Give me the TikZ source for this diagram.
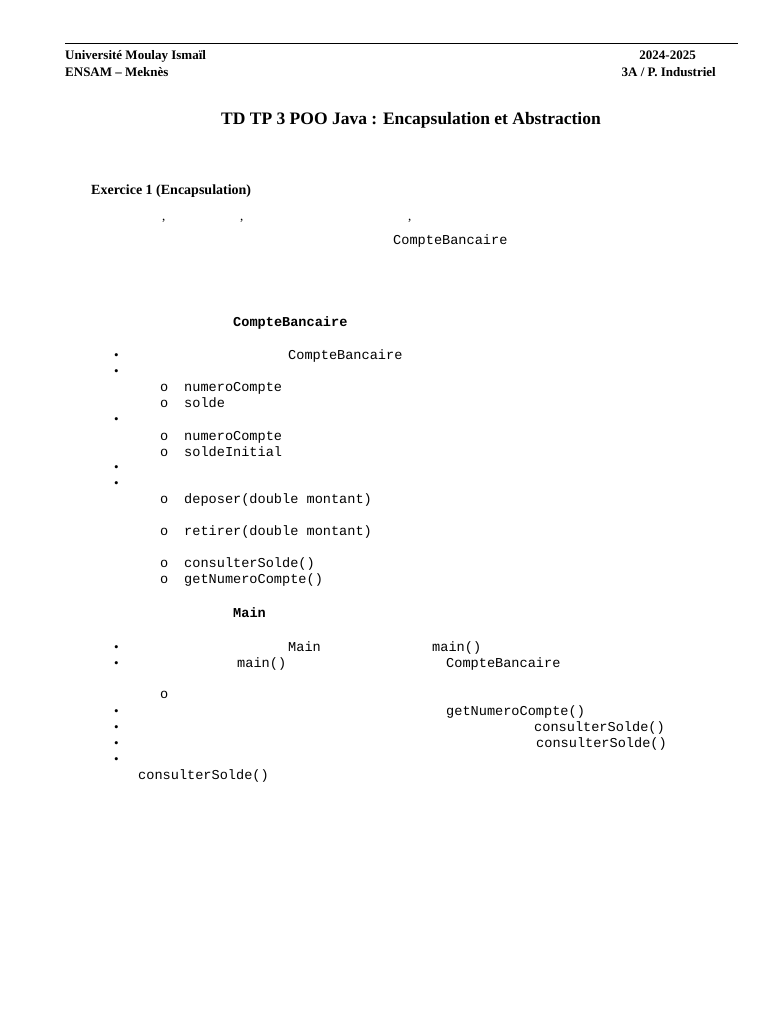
\documentclass[tikz,border=0pt]{standalone}
\usepackage{fontspec}
\setmainfont{Liberation Serif}
\setmonofont{Liberation Mono}
\begin{document}
\begin{tikzpicture}[x=1pt,y=-1pt,
 t/.style={anchor=base west,inner sep=0pt,font=\fontsize{13}{15}\selectfont},
 hb/.style={anchor=base west,inner sep=0pt,font=\fontsize{13}{15}\selectfont\bfseries},
 m/.style={anchor=base west,inner sep=0pt,font=\fontsize{13.6}{15}\ttfamily},
 mb/.style={anchor=base west,inner sep=0pt,font=\fontsize{13.6}{15}\ttfamily\bfseries},
 bul/.style={anchor=base west,inner sep=0pt,font=\fontsize{13}{15}\selectfont}]
\useasboundingbox[fill=white] (0,0) rectangle (768,1024);
\coordinate (l1) at (65,43); \coordinate (l2) at (738,43);
\draw[line width=0.8pt] (l1) -- (l2);
\node[hb] (u1) at (65,60) {Université Moulay Ismaïl};
\node[hb] (u2) at (65,77) {ENSAM – Meknès};
\node[hb,anchor=base east] (y1) at (696,60) {2024-2025};
\node[hb,anchor=base east] (y2) at (716,77) {3A / P. Industriel};
\node[anchor=base,inner sep=0pt,font=\fontsize{17.5}{20}\selectfont\bfseries] (title) at (411,125) {TD TP 3 POO Java : Encapsulation et Abstraction};
\node[hb,font=\fontsize{14}{16}\selectfont\bfseries] (ex) at (91,195) {Exercice 1 (Encapsulation)};
\node[t] (c1) at (162,221) {,};
\node[t] (c2) at (240,221) {,};
\node[t] (c3) at (408,221) {,};
\node[m] (cb1) at (393,244) {CompteBancaire};
\node[mb] (cb2) at (233,326) {CompteBancaire};
\foreach \yy [count=\i] in {359,375,423,471,487,651,667,715,731,747,763}
  \node[bul] (b\i) at (114,\yy) {\textbullet};
\node[m] (cb3) at (288,359) {CompteBancaire};
\foreach \yy/\tx [count=\i] in {391/numeroCompte,407/solde,440/numeroCompte,456/soldeInitial,503/deposer(double montant),535/retirer(double montant),567/consulterSolde(),583/getNumeroCompte()}{
  \node[m] (o\i) at (160,\yy) {o};
  \node[m] (s\i) at (184,\yy) {\tx};}
\node[mb] (mn) at (233,617) {Main};
\node[m] (mn2) at (288,651) {Main};
\node[m] (mm1) at (432,651) {main()};
\node[m] (mm2) at (237,667) {main()};
\node[m] (cb4) at (446,667) {CompteBancaire};
\node[m] (o9) at (160,698) {o};
\node[m] (g1) at (446,715) {getNumeroCompte()};
\node[m] (cs1) at (534,731) {consulterSolde()};
\node[m] (cs2) at (536,747) {consulterSolde()};
\node[m] (cs3) at (138,779) {consulterSolde()};
\end{tikzpicture}
\end{document}
